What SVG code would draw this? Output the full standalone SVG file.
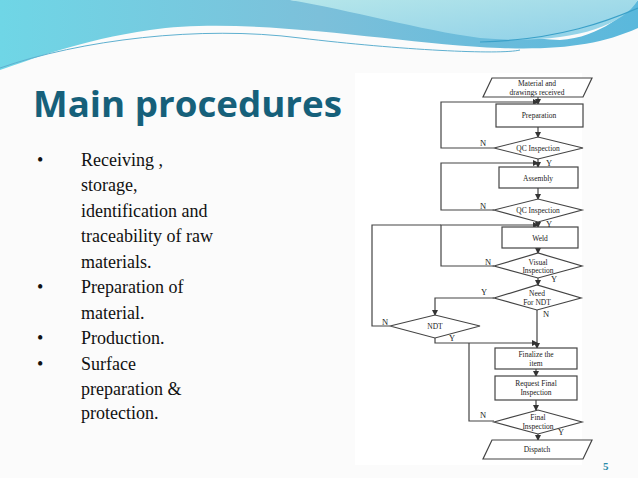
<svg xmlns="http://www.w3.org/2000/svg" width="638" height="478" viewBox="0 0 638 478">
<defs>
<linearGradient id="g1" x1="0" y1="0" x2="1" y2="0"><stop offset="0" stop-color="#6fd6e6"/><stop offset="0.5" stop-color="#7cc0da"/><stop offset="1" stop-color="#5ab8dc"/></linearGradient>
<linearGradient id="g2" x1="0" y1="0" x2="1" y2="1"><stop offset="0" stop-color="#b5e6ea"/><stop offset="1" stop-color="#8fd0e8"/></linearGradient>
<marker id="ar" markerWidth="6" markerHeight="6" refX="5" refY="3" orient="auto" markerUnits="userSpaceOnUse"><path d="M0,0 L6,3 L0,6 z" fill="#333"/></marker>
<style>
.ln{fill:none;stroke:#444;stroke-width:1.2}
.sh{fill:#fff;stroke:#444;stroke-width:1.2}
.ft{font-family:"Liberation Serif",serif;font-size:7.5px;fill:#222;text-anchor:middle}
.lb{font-family:"Liberation Serif",serif;font-size:8.5px;fill:#222}
.bt{font-family:"Liberation Serif",serif;font-size:18px;fill:#111}
</style>
</defs>
<rect width="638" height="478" fill="#fbfbfb"/>
<g id="header">
<path d="M0,0 H290 C400,10 520,40 560,40 C600,38 630,10 638,0 V28 C600,45 560,50 500,48 C400,44 250,15 150,30 C80,40 30,60 0,70 Z" fill="url(#g1)"/>
<path d="M290,0 H638 C620,30 560,45 480,38 C420,30 350,10 290,0 Z" fill="url(#g2)"/>
<path d="M0,68 C80,40 200,25 300,38 C400,50 500,55 520,50" fill="none" stroke="#5fb0d0" stroke-width="1"/>
<path d="M480,42 C560,40 610,20 638,8" fill="none" stroke="#3aa0c8" stroke-width="1.2"/>
</g>
<rect x="355" y="73" width="227" height="392" fill="#fff"/>
<g id="title"><text x="33" y="117" font-family="Open Sans, Liberation Sans, sans-serif" font-weight="bold" font-size="36" fill="#16607a" textLength="309" lengthAdjust="spacingAndGlyphs">Main procedures</text></g>
<g id="bullets" class="bt">
<text class="bt" x="37" y="166">•</text><text class="bt" x="81" y="166">Receiving ,</text>
<text class="bt" x="81" y="191">storage,</text>
<text class="bt" x="81" y="217">identification and</text>
<text class="bt" x="81" y="242">traceability of raw</text>
<text class="bt" x="81" y="268">materials.</text>
<text class="bt" x="37" y="293">•</text><text class="bt" x="81" y="293">Preparation of</text>
<text class="bt" x="81" y="319">material.</text>
<text class="bt" x="37" y="344">•</text><text class="bt" x="81" y="344">Production.</text>
<text class="bt" x="37" y="370">•</text><text class="bt" x="81" y="370">Surface</text>
<text class="bt" x="81" y="395">preparation &amp;</text>
<text class="bt" x="81" y="419">protection.</text>
</g>
<g id="connectors">
<path class="ln" d="M538,97 V104" marker-end="url(#ar)"/>
<path class="ln" d="M538,127 V137" marker-end="url(#ar)"/>
<path class="ln" d="M494,148 H441 V102 H538" marker-end="url(#ar)"/>
<path class="ln" d="M538,158 V167" marker-end="url(#ar)"/>
<path class="ln" d="M538,188 V199" marker-end="url(#ar)"/>
<path class="ln" d="M494,210 H441 V163 H538" marker-end="url(#ar)"/>
<path class="ln" d="M538,222 V227" marker-end="url(#ar)"/>
<path class="ln" d="M538,248 V253" marker-end="url(#ar)"/>
<path class="ln" d="M494,266 H441 V225 H538" marker-end="url(#ar)"/>
<path class="ln" d="M390,326 H372 V225 H441"/>
<path class="ln" d="M538,278 V285" marker-end="url(#ar)"/>
<path class="ln" d="M494,298 H435 V315" marker-end="url(#ar)"/>
<path class="ln" d="M537,310 V348" marker-end="url(#ar)"/>
<path class="ln" d="M435,338 V343 H537" marker-end="url(#ar)"/>
<path class="ln" d="M494,421 H469 V343"/>
<path class="ln" d="M536,369 V376" marker-end="url(#ar)"/>
<path class="ln" d="M536,400 V410" marker-end="url(#ar)"/>
<path class="ln" d="M538,434 V440" marker-end="url(#ar)"/>
<text class="lb" x="480" y="146">N</text>
<text class="lb" x="546" y="166">Y</text>
<text class="lb" x="480" y="209">N</text>
<text class="lb" x="546" y="227">Y</text>
<text class="lb" x="485" y="265">N</text>
<text class="lb" x="551" y="282">Y</text>
<text class="lb" x="481" y="295">Y</text>
<text class="lb" x="543" y="317">N</text>
<text class="lb" x="382" y="325">N</text>
<text class="lb" x="449" y="341">Y</text>
<text class="lb" x="480" y="418">N</text>
<text class="lb" x="558" y="435">Y</text>
</g>
<g id="n1"><path class="sh" d="M492,78 H592 L583,97 H483 Z"/><text class="ft" x="537" y="86">Material and</text><text class="ft" x="537" y="94.5">drawings received</text></g>
<g id="n2"><rect class="sh" x="496" y="104" width="87" height="23"/><text class="ft" x="539" y="118">Preparation</text></g>
<g id="n3"><path class="sh" d="M494,148 L538,137 L583,148 L538,159 Z"/><text class="ft" x="538" y="151">QC Inspection</text></g>
<g id="n4"><rect class="sh" x="499" y="167" width="79" height="21"/><text class="ft" x="538" y="181">Assembly</text></g>
<g id="n5"><path class="sh" d="M494,210 L538,199 L582,210 L538,222 Z"/><text class="ft" x="538" y="213">QC Inspection</text></g>
<g id="n6"><rect class="sh" x="502" y="227" width="76" height="21"/><text class="ft" x="540" y="241">Weld</text></g>
<g id="n7"><path class="sh" d="M494,266 L538,253 L582,266 L538,278 Z"/><text class="ft" x="538" y="264.5">Visual</text><text class="ft" x="538" y="273">Inspection</text></g>
<g id="n8"><path class="sh" d="M494,298 L537,285 L581,298 L537,310 Z"/><text class="ft" x="537" y="296">Need</text><text class="ft" x="537" y="304.5">For NDT</text></g>
<g id="n9"><path class="sh" d="M390,326 L435,315 L480,326 L435,338 Z"/><text class="ft" x="435" y="329">NDT</text></g>
<g id="n10"><rect class="sh" x="495" y="348" width="82" height="21"/><text class="ft" x="536" y="357">Finalize the</text><text class="ft" x="536" y="365.5">item</text></g>
<g id="n11"><rect class="sh" x="495" y="376" width="82" height="24"/><text class="ft" x="536" y="386">Request Final</text><text class="ft" x="536" y="395">Inspection</text></g>
<g id="n12"><path class="sh" d="M494,422 L538,410 L582,422 L538,434 Z"/><text class="ft" x="538" y="420">Final</text><text class="ft" x="538" y="428.5">Inspection</text></g>
<g id="n13"><path class="sh" d="M492,440 H592 L583,459 H483 Z"/><text class="ft" x="537" y="452">Dispatch</text></g>
<text x="603" y="470" font-family="Liberation Serif, serif" font-size="11" font-weight="bold" fill="#2b8aa8">5</text>
</svg>
